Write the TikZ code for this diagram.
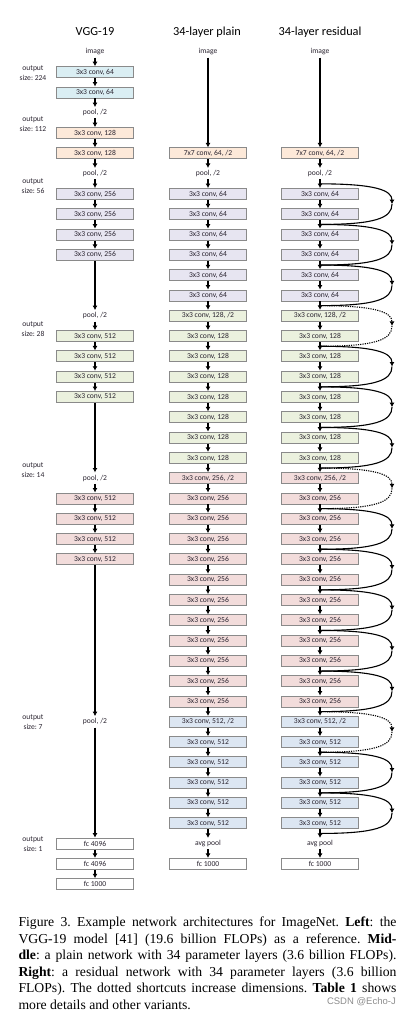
\documentclass[tikz,border=0pt]{standalone}
\usepackage{fontspec}
\setmainfont{Liberation Serif}
\newfontfamily\calfont{Carlito}
\newfontfamily\wmfont{Liberation Sans}
\usetikzlibrary{arrows.meta}
\definecolor{cpeach}{HTML}{FDE9D9}
\definecolor{cblue}{HTML}{DAEEF3}
\definecolor{clav}{HTML}{E7E5F1}
\definecolor{cgreen}{HTML}{EBF1DE}
\definecolor{cpink}{HTML}{F2DCDB}
\definecolor{cbgray}{HTML}{DCE6F2}
\definecolor{cborder}{HTML}{8A8A8A}
\definecolor{ctxt}{HTML}{2A2430}
\begin{document}
\frenchspacing
\begin{tikzpicture}[x=1pt,y=-1pt,
  layer/.style={draw=cborder, line width=0.9pt, minimum width=77pt, minimum height=11pt,
    inner sep=0pt, font=\calfont\fontsize{7.6}{8}\selectfont, text=ctxt},
  lbl/.style={minimum height=11pt, inner sep=0pt, font=\calfont\fontsize{7.6}{8}\selectfont, text=ctxt},
  outl/.style={align=center, inner sep=0pt, font=\calfont\fontsize{7.6}{10}\selectfont, text=ctxt},
  ttl/.style={inner sep=0pt, font=\calfont\fontsize{12.3}{14}\selectfont},
  arr/.style={-{Latex[length=4.5pt,width=5pt]}, line width=1.1pt},
  skiparr/.style={-{Latex[length=4.5pt,width=5pt]}, line width=1.1pt},
  dotline/.style={dash pattern=on 1.2pt off 1.1pt},
  capline/.style={anchor=base west, inner sep=0pt, font=\fontsize{13.7}{16}\selectfont}]
\useasboundingbox (0,0) rectangle (411,1016);

% titles
\node[ttl] (t1) at (95,32) {VGG-19};
\node[ttl] (t2) at (207,32) {34-layer plain};
\node[ttl] (t3) at (320,32) {34-layer residual};

% output size labels
\node[outl] (o1) at (33,72.7) {output\\size: 224};
\node[outl] (o2) at (33,124) {output\\size: 112};
\node[outl] (o3) at (33,185.7) {output\\size: 56};
\node[outl] (o4) at (33,329) {output\\size: 28};
\node[outl] (o5) at (33,470) {output\\size: 14};
\node[outl] (o6) at (33,722) {output\\size: 7};
\node[outl] (o7) at (33,844) {output\\size: 1};

% VGG-19 column
\node[lbl] (v-5) at (95,{153.4-20.3*5}) {image};
\foreach \r in {-4,-3} \node[layer, fill=cblue] (v\r) at (95,{153.4+20.3*\r}) {3x3 conv, 64};
\node[lbl] (v-2) at (95,{153.4-20.3*2}) {pool, /2};
\foreach \r in {-1,0} \node[layer, fill=cpeach] (v\r) at (95,{153.4+20.3*\r}) {3x3 conv, 128};
\node[lbl] (v1) at (95,{153.4+20.3}) {pool, /2};
\foreach \r in {2,...,5} \node[layer, fill=clav] (v\r) at (95,{153.4+20.3*\r}) {3x3 conv, 256};
\node[lbl] (v8) at (95,{153.4+20.3*8}) {pool, /2};
\foreach \r in {9,...,12} \node[layer, fill=cgreen] (v\r) at (95,{153.4+20.3*\r}) {3x3 conv, 512};
\node[lbl] (v16) at (95,{153.4+20.3*16}) {pool, /2};
\foreach \r in {17,...,20} \node[layer, fill=cpink] (v\r) at (95,{153.4+20.3*\r}) {3x3 conv, 512};
\node[lbl] (v28) at (95,{153.4+20.3*28}) {pool, /2};
\node[layer, fill=white] (v34) at (95,{153.4+20.3*34}) {fc 4096};
\node[layer, fill=white] (v35) at (95,{153.4+20.3*35}) {fc 4096};
\node[layer, fill=white] (v36) at (95,{153.4+20.3*36}) {fc 1000};
\foreach \a/\b in {-5/-4,-4/-3,-3/-2,-2/-1,-1/0,0/1,1/2,2/3,3/4,4/5,5/8,8/9,9/10,10/11,11/12,12/16,16/17,17/18,18/19,19/20,20/28,28/34,34/35,35/36}
  \draw[arr] (v\a) -- (v\b);

% plain and residual columns
\foreach \col/\cx in {p/208,r/320} {
  \node[lbl] (\col-img) at (\cx,{153.4-20.3*5}) {image};
  \node[layer, fill=cpeach] (\col0) at (\cx,153.4) {7x7 conv, 64, /2};
  \node[lbl] (\col1) at (\cx,{153.4+20.3}) {pool, /2};
  \foreach \r in {2,...,7} \node[layer, fill=clav] (\col\r) at (\cx,{153.4+20.3*\r}) {3x3 conv, 64};
  \node[layer, fill=cgreen] (\col8) at (\cx,{153.4+20.3*8}) {3x3 conv, 128, /2};
  \foreach \r in {9,...,15} \node[layer, fill=cgreen] (\col\r) at (\cx,{153.4+20.3*\r}) {3x3 conv, 128};
  \node[layer, fill=cpink] (\col16) at (\cx,{153.4+20.3*16}) {3x3 conv, 256, /2};
  \foreach \r in {17,...,27} \node[layer, fill=cpink] (\col\r) at (\cx,{153.4+20.3*\r}) {3x3 conv, 256};
  \node[layer, fill=cbgray] (\col28) at (\cx,{153.4+20.3*28}) {3x3 conv, 512, /2};
  \foreach \r in {29,...,33} \node[layer, fill=cbgray] (\col\r) at (\cx,{153.4+20.3*\r}) {3x3 conv, 512};
  \node[lbl] (\col34) at (\cx,{153.4+20.3*34}) {avg pool};
  \node[layer, fill=white] (\col35) at (\cx,{153.4+20.3*35}) {fc 1000};
  \draw[arr] (\col-img) -- (\col0);
  \foreach \r [evaluate=\r as \n using int(\r+1)] in {0,...,34}
    \draw[arr] (\col\r) -- (\col\n);
}

% junction points on the residual column
\foreach \r in {1,...,33} \coordinate (j\r) at (320,{153.4+20.3*\r+10.15});

% shortcuts
\foreach \s/\st in {1/solid,3/solid,5/solid,7/dotline,9/solid,11/solid,13/solid,15/dotline,17/solid,19/solid,21/solid,23/solid,25/solid,27/dotline,29/solid,31/solid} {
  \pgfmathtruncatemacro{\e}{\s+2}
  \path (j\s) ++(72,20.3) coordinate (m\s);
  \draw[skiparr,\st] (j\s) .. controls +(55,0) and +(0,-14) .. (m\s);
  \draw[line width=1.1pt,\st] (m\s) .. controls +(0,14) and +(55,0) .. (j\e);
}

% caption
\node[capline] (c1) at (18.3,926.5) {\makebox[378pt][s]{Figure 3. Example network architectures for ImageNet. \textbf{Left}: the}};
\node[capline] (c2) at (18.3,943.1) {\makebox[378pt][s]{VGG-19 model [41] (19.6 billion FLOPs) as a reference. \textbf{Mid-}}};
\node[capline] (c3) at (18.3,959.7) {\makebox[378pt][s]{\textbf{dle}: a plain network with 34 parameter layers (3.6 billion FLOPs).}};
\node[capline] (c4) at (18.3,976.3) {\makebox[378pt][s]{\textbf{Right}: a residual network with 34 parameter layers (3.6 billion}};
\node[capline] (c5) at (18.3,992.9) {\makebox[378pt][s]{FLOPs). The dotted shortcuts increase dimensions. \textbf{Table 1} shows}};
\node[capline] (c6) at (18.3,1009.5) {more details and other variants.};
\node[anchor=east, inner sep=0pt, font=\wmfont\fontsize{9.5}{12}\selectfont, text=black!45] (wm) at (396,1002) {CSDN @Echo-J};
\end{tikzpicture}
\end{document}
